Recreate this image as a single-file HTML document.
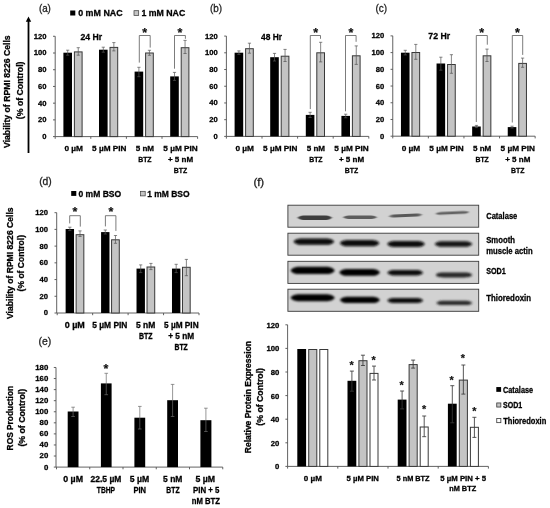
<!DOCTYPE html>
<html lang="en"><head><meta charset="utf-8"><title>Figure</title>
<style>html,body{margin:0;padding:0;background:#fff}svg{display:block}text{font-family:'Liberation Sans', Arial, sans-serif}</style></head><body>
<svg width="550" height="508" viewBox="0 0 550 508">
<defs><filter id="b1" x="-10%" y="-60%" width="120%" height="220%"><feGaussianBlur stdDeviation="0.9 0.7"/></filter><filter id="b2" x="-10%" y="-60%" width="120%" height="220%"><feGaussianBlur stdDeviation="1.1 0.8"/></filter></defs>
<rect width="550" height="508" fill="#fff"/>
<text x="38.90" y="12.44" font-size="11" font-weight="normal" fill="#222" stroke="#222" stroke-width="0.3" textLength="12.00" lengthAdjust="spacingAndGlyphs">(a)</text>
<text x="210.00" y="12.44" font-size="11" font-weight="normal" fill="#222" stroke="#222" stroke-width="0.3" textLength="12.10" lengthAdjust="spacingAndGlyphs">(b)</text>
<text x="375.40" y="12.44" font-size="11" font-weight="normal" fill="#222" stroke="#222" stroke-width="0.3" textLength="11.60" lengthAdjust="spacingAndGlyphs">(c)</text>
<text x="39.20" y="185.44" font-size="11" font-weight="normal" fill="#222" stroke="#222" stroke-width="0.3" textLength="12.60" lengthAdjust="spacingAndGlyphs">(d)</text>
<text x="38.50" y="345.14" font-size="11" font-weight="normal" fill="#222" stroke="#222" stroke-width="0.3" textLength="12.80" lengthAdjust="spacingAndGlyphs">(e)</text>
<text x="253.40" y="185.64" font-size="11" font-weight="normal" fill="#222" stroke="#222" stroke-width="0.3" textLength="10.80" lengthAdjust="spacingAndGlyphs">(f)</text>
<rect x="70.2" y="10.5" width="5.1" height="5.0" fill="#000"/>
<text x="78.20" y="16.22" font-size="9.0" font-weight="bold" fill="#000" stroke="#000" stroke-width="0.28" textLength="44.50" lengthAdjust="spacingAndGlyphs">0 mM NAC</text>
<rect x="134.0" y="10.7" width="4.7" height="4.7" fill="#c4c4c4" stroke="#383838" stroke-width="0.7"/>
<text x="141.40" y="16.22" font-size="9.0" font-weight="bold" fill="#000" stroke="#000" stroke-width="0.28" textLength="43.90" lengthAdjust="spacingAndGlyphs">1 mM NAC</text>
<rect x="71.2" y="191.0" width="5.1" height="4.9" fill="#000"/>
<text x="78.50" y="196.82" font-size="9.0" font-weight="bold" fill="#000" stroke="#000" stroke-width="0.28" textLength="42.70" lengthAdjust="spacingAndGlyphs">0 mM BSO</text>
<rect x="140.6" y="191.3" width="4.6" height="4.6" fill="#c4c4c4" stroke="#383838" stroke-width="0.7"/>
<text x="147.20" y="196.82" font-size="9.0" font-weight="bold" fill="#000" stroke="#000" stroke-width="0.28" textLength="42.40" lengthAdjust="spacingAndGlyphs">1 mM BSO</text>
<path d="M28.5 153V21" stroke="#000" stroke-width="1.8" fill="none"/>
<path d="M28.5 16.6L31.2 21.8H25.8Z" fill="#000"/>
<text transform="translate(10.38,148.00) rotate(-90)" x="0" y="0" font-size="8.6" font-weight="bold" fill="#000" stroke="#000" stroke-width="0.28" textLength="112.70" lengthAdjust="spacingAndGlyphs">Viability of RPMI 8226 Cells</text>
<text transform="translate(22.88,119.20) rotate(-90)" x="0" y="0" font-size="8.6" font-weight="bold" fill="#000" stroke="#000" stroke-width="0.28" textLength="57.70" lengthAdjust="spacingAndGlyphs">(% of Control)</text>
<text transform="translate(12.78,319.00) rotate(-90)" x="0" y="0" font-size="8.6" font-weight="bold" fill="#000" stroke="#000" stroke-width="0.28" textLength="111.60" lengthAdjust="spacingAndGlyphs">Viability of RPMI 8226 Cells</text>
<text transform="translate(24.48,291.40) rotate(-90)" x="0" y="0" font-size="8.6" font-weight="bold" fill="#000" stroke="#000" stroke-width="0.28" textLength="56.40" lengthAdjust="spacingAndGlyphs">(% of Control)</text>
<text transform="translate(13.48,450.40) rotate(-90)" x="0" y="0" font-size="8.6" font-weight="bold" fill="#000" stroke="#000" stroke-width="0.28" textLength="64.50" lengthAdjust="spacingAndGlyphs">ROS Production</text>
<text transform="translate(25.38,446.60) rotate(-90)" x="0" y="0" font-size="8.6" font-weight="bold" fill="#000" stroke="#000" stroke-width="0.28" textLength="57.70" lengthAdjust="spacingAndGlyphs">(% of Control)</text>
<text transform="translate(251.01,453.20) rotate(-90)" x="0" y="0" font-size="8.4" font-weight="bold" fill="#000" stroke="#000" stroke-width="0.28" textLength="112.20" lengthAdjust="spacingAndGlyphs">Relative Protein Expression</text>
<text transform="translate(263.31,425.70) rotate(-90)" x="0" y="0" font-size="8.4" font-weight="bold" fill="#000" stroke="#000" stroke-width="0.28" textLength="57.70" lengthAdjust="spacingAndGlyphs">(% of Control)</text>
<path d="M55.20 36.28V136.60H197.60M55.20 136.60v2.2M90.80 136.60v2.2M126.40 136.60v2.2M162.00 136.60v2.2M197.60 136.60v2.2M55.20 136.60h-2.2M55.20 119.88h-2.2M55.20 103.16h-2.2M55.20 86.44h-2.2M55.20 69.72h-2.2M55.20 53.00h-2.2M55.20 36.28h-2.2" stroke="#505050" stroke-width="0.9" fill="none"/>
<text x="42.35" y="139.06" font-size="8.0" font-weight="bold" fill="#000" stroke="#000" stroke-width="0.28" textLength="4.25" lengthAdjust="spacingAndGlyphs">0</text>
<text x="38.10" y="122.34" font-size="8.0" font-weight="bold" fill="#000" stroke="#000" stroke-width="0.28" textLength="8.50" lengthAdjust="spacingAndGlyphs">20</text>
<text x="38.10" y="105.62" font-size="8.0" font-weight="bold" fill="#000" stroke="#000" stroke-width="0.28" textLength="8.50" lengthAdjust="spacingAndGlyphs">40</text>
<text x="38.10" y="88.90" font-size="8.0" font-weight="bold" fill="#000" stroke="#000" stroke-width="0.28" textLength="8.50" lengthAdjust="spacingAndGlyphs">60</text>
<text x="38.10" y="72.18" font-size="8.0" font-weight="bold" fill="#000" stroke="#000" stroke-width="0.28" textLength="8.50" lengthAdjust="spacingAndGlyphs">80</text>
<text x="33.85" y="55.46" font-size="8.0" font-weight="bold" fill="#000" stroke="#000" stroke-width="0.28" textLength="12.75" lengthAdjust="spacingAndGlyphs">100</text>
<text x="33.85" y="38.74" font-size="8.0" font-weight="bold" fill="#000" stroke="#000" stroke-width="0.28" textLength="12.75" lengthAdjust="spacingAndGlyphs">120</text>
<text x="80.50" y="39.70" font-size="9.0" font-weight="bold" fill="#000" stroke="#000" stroke-width="0.28" textLength="21.70" lengthAdjust="spacingAndGlyphs">24 Hr</text>
<rect x="63.40" y="52.70" width="8.60" height="83.90" fill="#000"/>
<rect x="74.40" y="51.90" width="7.70" height="84.70" fill="#c4c4c4" stroke="#383838" stroke-width="1.0"/>
<path d="M67.70 50.20V55.20M66.10 50.20H69.30M66.10 55.20H69.30" stroke="#555" stroke-width="0.7" fill="none"/>
<path d="M78.25 47.70V55.20M76.65 47.70H79.85M76.65 55.20H79.85" stroke="#555" stroke-width="0.7" fill="none"/>
<rect x="99.00" y="49.70" width="8.60" height="86.90" fill="#000"/>
<rect x="110.00" y="47.40" width="7.70" height="89.20" fill="#c4c4c4" stroke="#383838" stroke-width="1.0"/>
<path d="M103.30 47.20V52.20M101.70 47.20H104.90M101.70 52.20H104.90" stroke="#555" stroke-width="0.7" fill="none"/>
<path d="M113.85 42.60V50.90M112.25 42.60H115.45M112.25 50.90H115.45" stroke="#555" stroke-width="0.7" fill="none"/>
<rect x="134.60" y="71.60" width="8.60" height="65.00" fill="#000"/>
<rect x="145.60" y="53.00" width="7.70" height="83.60" fill="#c4c4c4" stroke="#383838" stroke-width="1.0"/>
<path d="M138.90 67.30V76.70M137.30 67.30H140.50M137.30 76.70H140.50" stroke="#555" stroke-width="0.7" fill="none"/>
<path d="M149.45 50.30V55.30M147.85 50.30H151.05M147.85 55.30H151.05" stroke="#555" stroke-width="0.7" fill="none"/>
<rect x="170.20" y="76.40" width="8.60" height="60.20" fill="#000"/>
<rect x="181.20" y="47.70" width="7.70" height="88.90" fill="#c4c4c4" stroke="#383838" stroke-width="1.0"/>
<path d="M174.50 72.40V80.40M172.90 72.40H176.10M172.90 80.40H176.10" stroke="#555" stroke-width="0.7" fill="none"/>
<path d="M185.05 40.40V53.50M183.45 40.40H186.65M183.45 53.50H186.65" stroke="#555" stroke-width="0.7" fill="none"/>
<path d="M139.30 62.60V35.50H150.20V47.60" stroke="#5a5a5a" stroke-width="0.8" fill="none"/>
<text x="144.70" y="37.15" font-size="12.5" font-weight="bold" text-anchor="middle" fill="#111" stroke="#111" stroke-width="0.2">*</text>
<path d="M174.50 68.70V35.50H185.40V38.80" stroke="#5a5a5a" stroke-width="0.8" fill="none"/>
<text x="180.00" y="37.15" font-size="12.5" font-weight="bold" text-anchor="middle" fill="#111" stroke="#111" stroke-width="0.2">*</text>
<text x="64.40" y="151.16" font-size="8.0" font-weight="bold" fill="#000" stroke="#000" stroke-width="0.28" textLength="18.60" lengthAdjust="spacingAndGlyphs">0 µM</text>
<text x="92.10" y="151.16" font-size="8.0" font-weight="bold" fill="#000" stroke="#000" stroke-width="0.28" textLength="34.40" lengthAdjust="spacingAndGlyphs">5 µM PIN</text>
<text x="135.70" y="151.16" font-size="8.0" font-weight="bold" fill="#000" stroke="#000" stroke-width="0.28" textLength="18.40" lengthAdjust="spacingAndGlyphs">5 nM</text>
<text x="138.20" y="162.26" font-size="8.0" font-weight="bold" fill="#000" stroke="#000" stroke-width="0.28" textLength="13.40" lengthAdjust="spacingAndGlyphs">BTZ</text>
<text x="163.30" y="151.16" font-size="8.0" font-weight="bold" fill="#000" stroke="#000" stroke-width="0.28" textLength="34.40" lengthAdjust="spacingAndGlyphs">5 µM PIN</text>
<text x="167.90" y="162.26" font-size="8.0" font-weight="bold" fill="#000" stroke="#000" stroke-width="0.28" textLength="25.20" lengthAdjust="spacingAndGlyphs">+ 5 nM</text>
<text x="173.80" y="173.26" font-size="8.0" font-weight="bold" fill="#000" stroke="#000" stroke-width="0.28" textLength="13.40" lengthAdjust="spacingAndGlyphs">BTZ</text>
<path d="M226.40 36.08V136.40H368.80M226.40 136.40v2.2M262.00 136.40v2.2M297.60 136.40v2.2M333.20 136.40v2.2M368.80 136.40v2.2M226.40 136.40h-2.2M226.40 119.68h-2.2M226.40 102.96h-2.2M226.40 86.24h-2.2M226.40 69.52h-2.2M226.40 52.80h-2.2M226.40 36.08h-2.2" stroke="#505050" stroke-width="0.9" fill="none"/>
<text x="213.55" y="138.86" font-size="8.0" font-weight="bold" fill="#000" stroke="#000" stroke-width="0.28" textLength="4.25" lengthAdjust="spacingAndGlyphs">0</text>
<text x="209.30" y="122.14" font-size="8.0" font-weight="bold" fill="#000" stroke="#000" stroke-width="0.28" textLength="8.50" lengthAdjust="spacingAndGlyphs">20</text>
<text x="209.30" y="105.42" font-size="8.0" font-weight="bold" fill="#000" stroke="#000" stroke-width="0.28" textLength="8.50" lengthAdjust="spacingAndGlyphs">40</text>
<text x="209.30" y="88.70" font-size="8.0" font-weight="bold" fill="#000" stroke="#000" stroke-width="0.28" textLength="8.50" lengthAdjust="spacingAndGlyphs">60</text>
<text x="209.30" y="71.98" font-size="8.0" font-weight="bold" fill="#000" stroke="#000" stroke-width="0.28" textLength="8.50" lengthAdjust="spacingAndGlyphs">80</text>
<text x="205.05" y="55.26" font-size="8.0" font-weight="bold" fill="#000" stroke="#000" stroke-width="0.28" textLength="12.75" lengthAdjust="spacingAndGlyphs">100</text>
<text x="205.05" y="38.54" font-size="8.0" font-weight="bold" fill="#000" stroke="#000" stroke-width="0.28" textLength="12.75" lengthAdjust="spacingAndGlyphs">120</text>
<text x="261.00" y="39.50" font-size="9.0" font-weight="bold" fill="#000" stroke="#000" stroke-width="0.28" textLength="21.00" lengthAdjust="spacingAndGlyphs">48 Hr</text>
<rect x="234.60" y="52.70" width="8.60" height="83.70" fill="#000"/>
<rect x="245.60" y="48.70" width="7.70" height="87.70" fill="#c4c4c4" stroke="#383838" stroke-width="1.0"/>
<path d="M238.90 50.90V54.40M237.30 50.90H240.50M237.30 54.40H240.50" stroke="#555" stroke-width="0.7" fill="none"/>
<path d="M249.45 43.20V53.20M247.85 43.20H251.05M247.85 53.20H251.05" stroke="#555" stroke-width="0.7" fill="none"/>
<rect x="270.20" y="57.20" width="8.60" height="79.20" fill="#000"/>
<rect x="281.20" y="56.20" width="7.70" height="80.20" fill="#c4c4c4" stroke="#383838" stroke-width="1.0"/>
<path d="M274.50 53.40V61.00M272.90 53.40H276.10M272.90 61.00H276.10" stroke="#555" stroke-width="0.7" fill="none"/>
<path d="M285.05 49.40V61.50M283.45 49.40H286.65M283.45 61.50H286.65" stroke="#555" stroke-width="0.7" fill="none"/>
<rect x="305.80" y="114.90" width="8.60" height="21.50" fill="#000"/>
<rect x="316.80" y="52.80" width="7.70" height="83.60" fill="#c4c4c4" stroke="#383838" stroke-width="1.0"/>
<path d="M310.10 112.30V117.50M308.50 112.30H311.70M308.50 117.50H311.70" stroke="#555" stroke-width="0.7" fill="none"/>
<path d="M320.65 42.30V61.90M319.05 42.30H322.25M319.05 61.90H322.25" stroke="#555" stroke-width="0.7" fill="none"/>
<rect x="341.40" y="115.90" width="8.60" height="20.50" fill="#000"/>
<rect x="352.40" y="55.80" width="7.70" height="80.60" fill="#c4c4c4" stroke="#383838" stroke-width="1.0"/>
<path d="M345.70 114.20V117.80M344.10 114.20H347.30M344.10 117.80H347.30" stroke="#555" stroke-width="0.7" fill="none"/>
<path d="M356.25 45.90V64.40M354.65 45.90H357.85M354.65 64.40H357.85" stroke="#555" stroke-width="0.7" fill="none"/>
<path d="M310.30 109.10V35.50H320.50V38.80" stroke="#5a5a5a" stroke-width="0.8" fill="none"/>
<text x="315.70" y="37.15" font-size="12.5" font-weight="bold" text-anchor="middle" fill="#111" stroke="#111" stroke-width="0.2">*</text>
<path d="M345.50 111.30V35.50H356.10V41.80" stroke="#5a5a5a" stroke-width="0.8" fill="none"/>
<text x="351.00" y="37.15" font-size="12.5" font-weight="bold" text-anchor="middle" fill="#111" stroke="#111" stroke-width="0.2">*</text>
<text x="235.40" y="150.96" font-size="8.0" font-weight="bold" fill="#000" stroke="#000" stroke-width="0.28" textLength="18.60" lengthAdjust="spacingAndGlyphs">0 µM</text>
<text x="263.10" y="150.96" font-size="8.0" font-weight="bold" fill="#000" stroke="#000" stroke-width="0.28" textLength="34.40" lengthAdjust="spacingAndGlyphs">5 µM PIN</text>
<text x="306.70" y="150.96" font-size="8.0" font-weight="bold" fill="#000" stroke="#000" stroke-width="0.28" textLength="18.40" lengthAdjust="spacingAndGlyphs">5 nM</text>
<text x="309.20" y="162.06" font-size="8.0" font-weight="bold" fill="#000" stroke="#000" stroke-width="0.28" textLength="13.40" lengthAdjust="spacingAndGlyphs">BTZ</text>
<text x="334.30" y="150.96" font-size="8.0" font-weight="bold" fill="#000" stroke="#000" stroke-width="0.28" textLength="34.40" lengthAdjust="spacingAndGlyphs">5 µM PIN</text>
<text x="338.90" y="162.06" font-size="8.0" font-weight="bold" fill="#000" stroke="#000" stroke-width="0.28" textLength="25.20" lengthAdjust="spacingAndGlyphs">+ 5 nM</text>
<text x="344.80" y="173.06" font-size="8.0" font-weight="bold" fill="#000" stroke="#000" stroke-width="0.28" textLength="13.40" lengthAdjust="spacingAndGlyphs">BTZ</text>
<path d="M392.75 35.88V136.20H535.15M392.75 136.20v2.2M428.35 136.20v2.2M463.95 136.20v2.2M499.55 136.20v2.2M535.15 136.20v2.2M392.75 136.20h-2.2M392.75 119.48h-2.2M392.75 102.76h-2.2M392.75 86.04h-2.2M392.75 69.32h-2.2M392.75 52.60h-2.2M392.75 35.88h-2.2" stroke="#505050" stroke-width="0.9" fill="none"/>
<text x="379.90" y="138.66" font-size="8.0" font-weight="bold" fill="#000" stroke="#000" stroke-width="0.28" textLength="4.25" lengthAdjust="spacingAndGlyphs">0</text>
<text x="375.65" y="121.94" font-size="8.0" font-weight="bold" fill="#000" stroke="#000" stroke-width="0.28" textLength="8.50" lengthAdjust="spacingAndGlyphs">20</text>
<text x="375.65" y="105.22" font-size="8.0" font-weight="bold" fill="#000" stroke="#000" stroke-width="0.28" textLength="8.50" lengthAdjust="spacingAndGlyphs">40</text>
<text x="375.65" y="88.50" font-size="8.0" font-weight="bold" fill="#000" stroke="#000" stroke-width="0.28" textLength="8.50" lengthAdjust="spacingAndGlyphs">60</text>
<text x="375.65" y="71.78" font-size="8.0" font-weight="bold" fill="#000" stroke="#000" stroke-width="0.28" textLength="8.50" lengthAdjust="spacingAndGlyphs">80</text>
<text x="371.40" y="55.06" font-size="8.0" font-weight="bold" fill="#000" stroke="#000" stroke-width="0.28" textLength="12.75" lengthAdjust="spacingAndGlyphs">100</text>
<text x="371.40" y="38.34" font-size="8.0" font-weight="bold" fill="#000" stroke="#000" stroke-width="0.28" textLength="12.75" lengthAdjust="spacingAndGlyphs">120</text>
<text x="428.30" y="39.30" font-size="9.0" font-weight="bold" fill="#000" stroke="#000" stroke-width="0.28" textLength="21.80" lengthAdjust="spacingAndGlyphs">72 Hr</text>
<rect x="400.95" y="52.70" width="8.60" height="83.50" fill="#000"/>
<rect x="411.95" y="52.50" width="7.70" height="83.70" fill="#c4c4c4" stroke="#383838" stroke-width="1.0"/>
<path d="M405.25 50.30V54.90M403.65 50.30H406.85M403.65 54.90H406.85" stroke="#555" stroke-width="0.7" fill="none"/>
<path d="M415.80 44.40V59.30M414.20 44.40H417.40M414.20 59.30H417.40" stroke="#555" stroke-width="0.7" fill="none"/>
<rect x="436.55" y="63.50" width="8.60" height="72.70" fill="#000"/>
<rect x="447.55" y="64.50" width="7.70" height="71.70" fill="#c4c4c4" stroke="#383838" stroke-width="1.0"/>
<path d="M440.85 57.20V70.20M439.25 57.20H442.45M439.25 70.20H442.45" stroke="#555" stroke-width="0.7" fill="none"/>
<path d="M451.40 54.70V73.30M449.80 54.70H453.00M449.80 73.30H453.00" stroke="#555" stroke-width="0.7" fill="none"/>
<rect x="472.15" y="126.50" width="8.60" height="9.70" fill="#000"/>
<rect x="483.15" y="55.80" width="7.70" height="80.40" fill="#c4c4c4" stroke="#383838" stroke-width="1.0"/>
<path d="M476.45 125.40V127.60M474.85 125.40H478.05M474.85 127.60H478.05" stroke="#555" stroke-width="0.7" fill="none"/>
<path d="M487.00 49.10V61.50M485.40 49.10H488.60M485.40 61.50H488.60" stroke="#555" stroke-width="0.7" fill="none"/>
<rect x="507.75" y="127.10" width="8.60" height="9.10" fill="#000"/>
<rect x="518.75" y="63.40" width="7.70" height="72.80" fill="#c4c4c4" stroke="#383838" stroke-width="1.0"/>
<path d="M512.05 126.20V128.00M510.45 126.20H513.65M510.45 128.00H513.65" stroke="#555" stroke-width="0.7" fill="none"/>
<path d="M522.60 58.10V67.30M521.00 58.10H524.20M521.00 67.30H524.20" stroke="#555" stroke-width="0.7" fill="none"/>
<path d="M476.30 122.00V35.50H487.30V44.70" stroke="#5a5a5a" stroke-width="0.8" fill="none"/>
<text x="481.70" y="37.15" font-size="12.5" font-weight="bold" text-anchor="middle" fill="#111" stroke="#111" stroke-width="0.2">*</text>
<path d="M512.30 122.50V35.50H522.70V54.90" stroke="#5a5a5a" stroke-width="0.8" fill="none"/>
<text x="517.40" y="37.15" font-size="12.5" font-weight="bold" text-anchor="middle" fill="#111" stroke="#111" stroke-width="0.2">*</text>
<text x="401.65" y="150.76" font-size="8.0" font-weight="bold" fill="#000" stroke="#000" stroke-width="0.28" textLength="18.60" lengthAdjust="spacingAndGlyphs">0 µM</text>
<text x="429.35" y="150.76" font-size="8.0" font-weight="bold" fill="#000" stroke="#000" stroke-width="0.28" textLength="34.40" lengthAdjust="spacingAndGlyphs">5 µM PIN</text>
<text x="472.95" y="150.76" font-size="8.0" font-weight="bold" fill="#000" stroke="#000" stroke-width="0.28" textLength="18.40" lengthAdjust="spacingAndGlyphs">5 nM</text>
<text x="475.45" y="161.86" font-size="8.0" font-weight="bold" fill="#000" stroke="#000" stroke-width="0.28" textLength="13.40" lengthAdjust="spacingAndGlyphs">BTZ</text>
<text x="500.55" y="150.76" font-size="8.0" font-weight="bold" fill="#000" stroke="#000" stroke-width="0.28" textLength="34.40" lengthAdjust="spacingAndGlyphs">5 µM PIN</text>
<text x="505.15" y="161.86" font-size="8.0" font-weight="bold" fill="#000" stroke="#000" stroke-width="0.28" textLength="25.20" lengthAdjust="spacingAndGlyphs">+ 5 nM</text>
<text x="511.05" y="172.86" font-size="8.0" font-weight="bold" fill="#000" stroke="#000" stroke-width="0.28" textLength="13.40" lengthAdjust="spacingAndGlyphs">BTZ</text>
<path d="M56.70 212.68V313.00H199.00M57.20 313.00v2.2M92.65 313.00v2.2M128.10 313.00v2.2M163.55 313.00v2.2M199.00 313.00v2.2M56.70 313.00h-2.2M56.70 296.28h-2.2M56.70 279.56h-2.2M56.70 262.84h-2.2M56.70 246.12h-2.2M56.70 229.40h-2.2M56.70 212.68h-2.2" stroke="#505050" stroke-width="0.9" fill="none"/>
<text x="43.75" y="315.46" font-size="8.0" font-weight="bold" fill="#000" stroke="#000" stroke-width="0.28" textLength="4.25" lengthAdjust="spacingAndGlyphs">0</text>
<text x="39.50" y="298.74" font-size="8.0" font-weight="bold" fill="#000" stroke="#000" stroke-width="0.28" textLength="8.50" lengthAdjust="spacingAndGlyphs">20</text>
<text x="39.50" y="282.02" font-size="8.0" font-weight="bold" fill="#000" stroke="#000" stroke-width="0.28" textLength="8.50" lengthAdjust="spacingAndGlyphs">40</text>
<text x="39.50" y="265.30" font-size="8.0" font-weight="bold" fill="#000" stroke="#000" stroke-width="0.28" textLength="8.50" lengthAdjust="spacingAndGlyphs">60</text>
<text x="39.50" y="248.58" font-size="8.0" font-weight="bold" fill="#000" stroke="#000" stroke-width="0.28" textLength="8.50" lengthAdjust="spacingAndGlyphs">80</text>
<text x="35.25" y="231.86" font-size="8.0" font-weight="bold" fill="#000" stroke="#000" stroke-width="0.28" textLength="12.75" lengthAdjust="spacingAndGlyphs">100</text>
<text x="35.25" y="215.14" font-size="8.0" font-weight="bold" fill="#000" stroke="#000" stroke-width="0.28" textLength="12.75" lengthAdjust="spacingAndGlyphs">120</text>
<rect x="65.63" y="229.00" width="8.40" height="84.00" fill="#000"/>
<rect x="76.13" y="234.70" width="7.70" height="78.30" fill="#c4c4c4" stroke="#383838" stroke-width="1.0"/>
<path d="M69.83 227.20V230.60M68.23 227.20H71.43M68.23 230.60H71.43" stroke="#555" stroke-width="0.7" fill="none"/>
<path d="M80.03 230.90V236.50M78.43 230.90H81.62M78.43 236.50H81.62" stroke="#555" stroke-width="0.7" fill="none"/>
<rect x="101.08" y="232.10" width="8.40" height="80.90" fill="#000"/>
<rect x="111.58" y="239.80" width="7.70" height="73.20" fill="#c4c4c4" stroke="#383838" stroke-width="1.0"/>
<path d="M105.28 230.00V234.00M103.68 230.00H106.88M103.68 234.00H106.88" stroke="#555" stroke-width="0.7" fill="none"/>
<path d="M115.47 235.50V243.30M113.88 235.50H117.07M113.88 243.30H117.07" stroke="#555" stroke-width="0.7" fill="none"/>
<rect x="136.52" y="268.60" width="8.40" height="44.40" fill="#000"/>
<rect x="147.02" y="267.00" width="7.70" height="46.00" fill="#c4c4c4" stroke="#383838" stroke-width="1.0"/>
<path d="M140.72 264.90V272.60M139.12 264.90H142.32M139.12 272.60H142.32" stroke="#555" stroke-width="0.7" fill="none"/>
<path d="M150.92 263.40V269.60M149.32 263.40H152.52M149.32 269.60H152.52" stroke="#555" stroke-width="0.7" fill="none"/>
<rect x="171.98" y="268.60" width="8.40" height="44.40" fill="#000"/>
<rect x="182.48" y="267.30" width="7.70" height="45.70" fill="#c4c4c4" stroke="#383838" stroke-width="1.0"/>
<path d="M176.18 264.30V272.60M174.58 264.30H177.78M174.58 272.60H177.78" stroke="#555" stroke-width="0.7" fill="none"/>
<path d="M186.38 259.40V275.70M184.78 259.40H187.98M184.78 275.70H187.98" stroke="#555" stroke-width="0.7" fill="none"/>
<path d="M69.70 223.40V215.70H80.30V226.60" stroke="#5a5a5a" stroke-width="0.8" fill="none"/>
<text x="74.90" y="215.65" font-size="12.5" font-weight="bold" text-anchor="middle" fill="#111" stroke="#111" stroke-width="0.2">*</text>
<path d="M105.40 226.40V215.70H115.90V230.90" stroke="#5a5a5a" stroke-width="0.8" fill="none"/>
<text x="111.00" y="215.65" font-size="12.5" font-weight="bold" text-anchor="middle" fill="#111" stroke="#111" stroke-width="0.2">*</text>
<text x="64.70" y="327.61" font-size="8.4" font-weight="bold" fill="#000" stroke="#000" stroke-width="0.28" textLength="20.10" lengthAdjust="spacingAndGlyphs">0 µM</text>
<text x="92.30" y="327.61" font-size="8.4" font-weight="bold" fill="#000" stroke="#000" stroke-width="0.28" textLength="35.10" lengthAdjust="spacingAndGlyphs">5 µM PIN</text>
<text x="135.90" y="327.61" font-size="8.4" font-weight="bold" fill="#000" stroke="#000" stroke-width="0.28" textLength="19.30" lengthAdjust="spacingAndGlyphs">5 nM</text>
<text x="139.00" y="338.81" font-size="8.4" font-weight="bold" fill="#000" stroke="#000" stroke-width="0.28" textLength="13.60" lengthAdjust="spacingAndGlyphs">BTZ</text>
<text x="164.00" y="327.61" font-size="8.4" font-weight="bold" fill="#000" stroke="#000" stroke-width="0.28" textLength="34.60" lengthAdjust="spacingAndGlyphs">5 µM PIN</text>
<text x="168.20" y="338.81" font-size="8.4" font-weight="bold" fill="#000" stroke="#000" stroke-width="0.28" textLength="25.90" lengthAdjust="spacingAndGlyphs">+ 5 nM</text>
<text x="174.50" y="349.91" font-size="8.4" font-weight="bold" fill="#000" stroke="#000" stroke-width="0.28" textLength="13.30" lengthAdjust="spacingAndGlyphs">BTZ</text>
<path d="M56.00 367.47V467.10H222.75M56.50 467.10v2.2M89.75 467.10v2.2M123.00 467.10v2.2M156.25 467.10v2.2M189.50 467.10v2.2M222.75 467.10v2.2M56.00 467.10h-2.2M56.00 456.03h-2.2M56.00 444.96h-2.2M56.00 433.89h-2.2M56.00 422.82h-2.2M56.00 411.75h-2.2M56.00 400.68h-2.2M56.00 389.61h-2.2M56.00 378.54h-2.2M56.00 367.47h-2.2" stroke="#505050" stroke-width="0.9" fill="none"/>
<text x="43.95" y="469.56" font-size="8.0" font-weight="bold" fill="#000" stroke="#000" stroke-width="0.28" textLength="4.35" lengthAdjust="spacingAndGlyphs">0</text>
<text x="39.60" y="458.49" font-size="8.0" font-weight="bold" fill="#000" stroke="#000" stroke-width="0.28" textLength="8.70" lengthAdjust="spacingAndGlyphs">20</text>
<text x="39.60" y="447.42" font-size="8.0" font-weight="bold" fill="#000" stroke="#000" stroke-width="0.28" textLength="8.70" lengthAdjust="spacingAndGlyphs">40</text>
<text x="39.60" y="436.35" font-size="8.0" font-weight="bold" fill="#000" stroke="#000" stroke-width="0.28" textLength="8.70" lengthAdjust="spacingAndGlyphs">60</text>
<text x="39.60" y="425.28" font-size="8.0" font-weight="bold" fill="#000" stroke="#000" stroke-width="0.28" textLength="8.70" lengthAdjust="spacingAndGlyphs">80</text>
<text x="35.25" y="414.21" font-size="8.0" font-weight="bold" fill="#000" stroke="#000" stroke-width="0.28" textLength="13.05" lengthAdjust="spacingAndGlyphs">100</text>
<text x="35.25" y="403.14" font-size="8.0" font-weight="bold" fill="#000" stroke="#000" stroke-width="0.28" textLength="13.05" lengthAdjust="spacingAndGlyphs">120</text>
<text x="35.25" y="392.07" font-size="8.0" font-weight="bold" fill="#000" stroke="#000" stroke-width="0.28" textLength="13.05" lengthAdjust="spacingAndGlyphs">140</text>
<text x="35.25" y="381.00" font-size="8.0" font-weight="bold" fill="#000" stroke="#000" stroke-width="0.28" textLength="13.05" lengthAdjust="spacingAndGlyphs">160</text>
<text x="35.25" y="369.93" font-size="8.0" font-weight="bold" fill="#000" stroke="#000" stroke-width="0.28" textLength="13.05" lengthAdjust="spacingAndGlyphs">180</text>
<rect x="67.70" y="411.50" width="10.80" height="55.60" fill="#000"/>
<path d="M73.10 407.20V416.50M71.30 407.20H74.90M71.30 416.50H74.90" stroke="#6a6a6a" stroke-width="0.7" fill="none"/>
<rect x="100.90" y="383.40" width="10.70" height="83.70" fill="#000"/>
<path d="M106.25 373.30V394.70M104.45 373.30H108.05M104.45 394.70H108.05" stroke="#6a6a6a" stroke-width="0.7" fill="none"/>
<rect x="134.40" y="417.70" width="10.80" height="49.40" fill="#000"/>
<path d="M139.80 406.40V429.00M138.00 406.40H141.60M138.00 429.00H141.60" stroke="#6a6a6a" stroke-width="0.7" fill="none"/>
<rect x="167.20" y="400.20" width="10.80" height="66.90" fill="#000"/>
<path d="M172.60 384.40V416.50M170.80 384.40H174.40M170.80 416.50H174.40" stroke="#6a6a6a" stroke-width="0.7" fill="none"/>
<rect x="200.40" y="420.20" width="11.00" height="46.90" fill="#000"/>
<path d="M205.90 408.20V431.50M204.10 408.20H207.70M204.10 431.50H207.70" stroke="#6a6a6a" stroke-width="0.7" fill="none"/>
<text x="106.00" y="372.65" font-size="12.5" font-weight="bold" text-anchor="middle" fill="#111" stroke="#111" stroke-width="0.2">*</text>
<text x="63.20" y="482.14" font-size="8.2" font-weight="bold" fill="#000" stroke="#000" stroke-width="0.28" textLength="19.80" lengthAdjust="spacingAndGlyphs">0 µM</text>
<text x="90.60" y="482.14" font-size="8.2" font-weight="bold" fill="#000" stroke="#000" stroke-width="0.28" textLength="30.70" lengthAdjust="spacingAndGlyphs">22.5 µM</text>
<text x="96.80" y="493.04" font-size="8.2" font-weight="bold" fill="#000" stroke="#000" stroke-width="0.28" textLength="18.20" lengthAdjust="spacingAndGlyphs">TBHP</text>
<text x="129.80" y="482.14" font-size="8.2" font-weight="bold" fill="#000" stroke="#000" stroke-width="0.28" textLength="19.40" lengthAdjust="spacingAndGlyphs">5 µM</text>
<text x="133.40" y="493.04" font-size="8.2" font-weight="bold" fill="#000" stroke="#000" stroke-width="0.28" textLength="12.60" lengthAdjust="spacingAndGlyphs">PIN</text>
<text x="163.10" y="482.14" font-size="8.2" font-weight="bold" fill="#000" stroke="#000" stroke-width="0.28" textLength="19.30" lengthAdjust="spacingAndGlyphs">5 nM</text>
<text x="166.30" y="493.04" font-size="8.2" font-weight="bold" fill="#000" stroke="#000" stroke-width="0.28" textLength="13.30" lengthAdjust="spacingAndGlyphs">BTZ</text>
<text x="195.50" y="482.14" font-size="8.2" font-weight="bold" fill="#000" stroke="#000" stroke-width="0.28" textLength="19.60" lengthAdjust="spacingAndGlyphs">5 µM</text>
<text x="193.10" y="493.04" font-size="8.2" font-weight="bold" fill="#000" stroke="#000" stroke-width="0.28" textLength="26.40" lengthAdjust="spacingAndGlyphs">PIN + 5</text>
<text x="191.80" y="503.94" font-size="8.2" font-weight="bold" fill="#000" stroke="#000" stroke-width="0.28" textLength="28.20" lengthAdjust="spacingAndGlyphs">nM BTZ</text>
<rect x="287.9" y="205.20" width="190.8" height="22.00" fill="#d2d2d2" stroke="#3a3a3a" stroke-width="0.9"/>
<rect x="287.9" y="233.20" width="190.8" height="22.00" fill="#d2d2d2" stroke="#3a3a3a" stroke-width="0.9"/>
<rect x="287.9" y="261.30" width="190.8" height="22.10" fill="#d2d2d2" stroke="#3a3a3a" stroke-width="0.9"/>
<rect x="287.9" y="289.20" width="190.8" height="22.10" fill="#d2d2d2" stroke="#3a3a3a" stroke-width="0.9"/>
<path d="M297.5 217.80C299.8 215.60 302.8 215.60 305.1 215.60H324.4C326.7 215.60 329.7 215.60 332.0 217.80C329.7 220.00 326.7 220.00 324.4 220.00H305.1C302.8 220.00 299.8 220.00 297.5 217.80Z" fill="#3c3c3c" filter="url(#b1)"/>
<path d="M343.0 217.20C345.2 215.40 348.2 215.40 350.5 215.40H369.5C371.8 215.40 374.8 215.40 377.0 217.20C374.8 219.00 371.8 219.00 369.5 219.00H350.5C348.2 219.00 345.2 219.00 343.0 217.20Z" fill="#5c5c5c" filter="url(#b1)"/>
<path d="M388.6 215.50C390.8 214.00 393.8 214.00 396.0 214.00H415.0C417.2 214.00 420.2 214.00 422.4 215.50C420.2 217.00 417.2 217.00 415.0 217.00H396.0C393.8 217.00 390.8 217.00 388.6 215.50Z" fill="#585858" filter="url(#b1)" transform="rotate(-2.5 405.5 215.5)"/>
<path d="M435.4 212.90C437.6 211.60 440.6 211.60 442.8 211.60H461.8C464.0 211.60 467.0 211.60 469.2 212.90C467.0 214.20 464.0 214.20 461.8 214.20H442.8C440.6 214.20 437.6 214.20 435.4 212.90Z" fill="#646464" filter="url(#b1)" transform="rotate(-2.5 452.3 212.9)"/>
<path d="M293.4 241.70C296.1 238.60 299.7 238.60 302.4 238.60H325.3C328.0 238.60 331.6 238.60 334.3 241.70C331.6 244.80 328.0 244.80 325.3 244.80H302.4C299.7 244.80 296.1 244.80 293.4 241.70Z" fill="#080808" filter="url(#b2)"/>
<path d="M339.7 243.20C342.3 240.10 345.8 240.10 348.5 240.10H370.7C373.4 240.10 376.9 240.10 379.5 243.20C376.9 246.30 373.4 246.30 370.7 246.30H348.5C345.8 246.30 342.3 246.30 339.7 243.20Z" fill="#0c0c0c" filter="url(#b2)"/>
<path d="M387.0 244.00C389.5 241.00 392.9 241.00 395.4 241.00H416.6C419.1 241.00 422.5 241.00 425.0 244.00C422.5 247.00 419.1 247.00 416.6 247.00H395.4C392.9 247.00 389.5 247.00 387.0 244.00Z" fill="#0c0c0c" filter="url(#b2)"/>
<path d="M434.5 244.00C437.0 241.20 440.4 241.20 442.9 241.20H464.1C466.6 241.20 470.0 241.20 472.5 244.00C470.0 246.80 466.6 246.80 464.1 246.80H442.9C440.4 246.80 437.0 246.80 434.5 244.00Z" fill="#141414" filter="url(#b2)"/>
<path d="M290.4 270.40C293.3 266.70 297.3 266.70 300.2 266.70H325.1C328.0 266.70 332.0 266.70 334.9 270.40C332.0 274.10 328.0 274.10 325.1 274.10H300.2C297.3 274.10 293.3 274.10 290.4 270.40Z" fill="#000" filter="url(#b2)"/>
<path d="M339.1 272.40C341.8 269.00 345.4 269.00 348.1 269.00H371.1C373.8 269.00 377.4 269.00 380.1 272.40C377.4 275.80 373.8 275.80 371.1 275.80H348.1C345.4 275.80 341.8 275.80 339.1 272.40Z" fill="#030303" filter="url(#b2)"/>
<path d="M387.0 272.80C389.4 270.10 392.6 270.10 395.0 270.10H415.4C417.8 270.10 421.0 270.10 423.4 272.80C421.0 275.50 417.8 275.50 415.4 275.50H395.0C392.6 275.50 389.4 275.50 387.0 272.80Z" fill="#101010" filter="url(#b2)"/>
<path d="M435.4 275.00C437.8 272.60 441.1 272.60 443.6 272.60H464.3C466.8 272.60 470.1 272.60 472.5 275.00C470.1 277.40 466.8 277.40 464.3 277.40H443.6C441.1 277.40 437.8 277.40 435.4 275.00Z" fill="#262626" filter="url(#b2)"/>
<path d="M290.4 297.80C293.3 294.30 297.3 294.30 300.2 294.30H325.1C328.0 294.30 332.0 294.30 334.9 297.80C332.0 301.30 328.0 301.30 325.1 301.30H300.2C297.3 301.30 293.3 301.30 290.4 297.80Z" fill="#000" filter="url(#b2)"/>
<path d="M339.7 299.90C342.4 296.70 345.9 296.70 348.6 296.70H371.2C373.9 296.70 377.4 296.70 380.1 299.90C377.4 303.10 373.9 303.10 371.2 303.10H348.6C345.9 303.10 342.4 303.10 339.7 299.90Z" fill="#030303" filter="url(#b2)"/>
<path d="M387.0 300.60C389.4 298.10 392.6 298.10 395.0 298.10H415.4C417.8 298.10 421.0 298.10 423.4 300.60C421.0 303.10 417.8 303.10 415.4 303.10H395.0C392.6 303.10 389.4 303.10 387.0 300.60Z" fill="#101010" filter="url(#b2)"/>
<path d="M436.0 302.90C438.4 300.70 441.6 300.70 444.0 300.70H464.5C466.9 300.70 470.1 300.70 472.5 302.90C470.1 305.10 466.9 305.10 464.5 305.10H444.0C441.6 305.10 438.4 305.10 436.0 302.90Z" fill="#2a2a2a" filter="url(#b2)"/>
<text x="486.20" y="218.72" font-size="9.0" font-weight="bold" fill="#000" stroke="#000" stroke-width="0.28" textLength="31.10" lengthAdjust="spacingAndGlyphs">Catalase</text>
<text x="486.20" y="242.92" font-size="9.0" font-weight="bold" fill="#000" stroke="#000" stroke-width="0.28" textLength="28.80" lengthAdjust="spacingAndGlyphs">Smooth</text>
<text x="486.20" y="253.82" font-size="9.0" font-weight="bold" fill="#000" stroke="#000" stroke-width="0.28" textLength="46.50" lengthAdjust="spacingAndGlyphs">muscle actin</text>
<text x="486.20" y="274.02" font-size="9.0" font-weight="bold" fill="#000" stroke="#000" stroke-width="0.28" textLength="19.60" lengthAdjust="spacingAndGlyphs">SOD1</text>
<text x="486.20" y="301.22" font-size="9.0" font-weight="bold" fill="#000" stroke="#000" stroke-width="0.28" textLength="44.80" lengthAdjust="spacingAndGlyphs">Thioredoxin</text>
<path d="M287.60 324.80V466.40H488.40M287.60 466.40v2.2M337.80 466.40v2.2M388.00 466.40v2.2M438.20 466.40v2.2M488.40 466.40v2.2M287.60 466.40h-2.2M287.60 442.80h-2.2M287.60 419.20h-2.2M287.60 395.60h-2.2M287.60 372.00h-2.2M287.60 348.40h-2.2M287.60 324.80h-2.2" stroke="#505050" stroke-width="0.9" fill="none"/>
<text x="275.00" y="469.46" font-size="8.0" font-weight="bold" fill="#000" stroke="#000" stroke-width="0.28" textLength="4.30" lengthAdjust="spacingAndGlyphs">0</text>
<text x="270.70" y="445.86" font-size="8.0" font-weight="bold" fill="#000" stroke="#000" stroke-width="0.28" textLength="8.60" lengthAdjust="spacingAndGlyphs">20</text>
<text x="270.70" y="422.26" font-size="8.0" font-weight="bold" fill="#000" stroke="#000" stroke-width="0.28" textLength="8.60" lengthAdjust="spacingAndGlyphs">40</text>
<text x="270.70" y="398.66" font-size="8.0" font-weight="bold" fill="#000" stroke="#000" stroke-width="0.28" textLength="8.60" lengthAdjust="spacingAndGlyphs">60</text>
<text x="270.70" y="375.06" font-size="8.0" font-weight="bold" fill="#000" stroke="#000" stroke-width="0.28" textLength="8.60" lengthAdjust="spacingAndGlyphs">80</text>
<text x="266.40" y="351.46" font-size="8.0" font-weight="bold" fill="#000" stroke="#000" stroke-width="0.28" textLength="12.90" lengthAdjust="spacingAndGlyphs">100</text>
<text x="266.40" y="327.86" font-size="8.0" font-weight="bold" fill="#000" stroke="#000" stroke-width="0.28" textLength="12.90" lengthAdjust="spacingAndGlyphs">120</text>
<rect x="297.30" y="349.00" width="8.80" height="117.40" fill="#000"/>
<rect x="308.70" y="349.50" width="8.10" height="116.90" fill="#c4c4c4" stroke="#383838" stroke-width="1.0"/>
<rect x="319.80" y="349.50" width="8.00" height="116.90" fill="#fff" stroke="#383838" stroke-width="1.0"/>
<rect x="347.50" y="380.80" width="8.80" height="85.60" fill="#000"/>
<rect x="358.90" y="360.70" width="8.10" height="105.70" fill="#c4c4c4" stroke="#383838" stroke-width="1.0"/>
<rect x="370.00" y="373.40" width="8.00" height="93.00" fill="#fff" stroke="#383838" stroke-width="1.0"/>
<path d="M351.90 371.10V391.20M349.90 371.10H353.90M349.90 391.20H353.90" stroke="#3a3a3a" stroke-width="0.85" fill="none"/>
<path d="M362.95 355.20V365.50M360.95 355.20H364.95M360.95 365.50H364.95" stroke="#3a3a3a" stroke-width="0.85" fill="none"/>
<path d="M374.00 366.10V380.00M372.00 366.10H376.00M372.00 380.00H376.00" stroke="#3a3a3a" stroke-width="0.85" fill="none"/>
<rect x="397.70" y="399.60" width="8.80" height="66.80" fill="#000"/>
<rect x="409.10" y="364.60" width="8.10" height="101.80" fill="#c4c4c4" stroke="#383838" stroke-width="1.0"/>
<rect x="420.20" y="427.00" width="8.00" height="39.40" fill="#fff" stroke="#383838" stroke-width="1.0"/>
<path d="M402.10 391.00V408.90M400.10 391.00H404.10M400.10 408.90H404.10" stroke="#3a3a3a" stroke-width="0.85" fill="none"/>
<path d="M413.15 360.10V368.10M411.15 360.10H415.15M411.15 368.10H415.15" stroke="#3a3a3a" stroke-width="0.85" fill="none"/>
<path d="M424.20 416.00V436.70M422.20 416.00H426.20M422.20 436.70H426.20" stroke="#3a3a3a" stroke-width="0.85" fill="none"/>
<rect x="447.90" y="403.70" width="8.80" height="62.70" fill="#000"/>
<rect x="459.30" y="380.10" width="8.10" height="86.30" fill="#c4c4c4" stroke="#383838" stroke-width="1.0"/>
<rect x="470.40" y="427.30" width="8.00" height="39.10" fill="#fff" stroke="#383838" stroke-width="1.0"/>
<path d="M452.30 385.70V422.80M450.30 385.70H454.30M450.30 422.80H454.30" stroke="#3a3a3a" stroke-width="0.85" fill="none"/>
<path d="M463.35 365.00V394.10M461.35 365.00H465.35M461.35 394.10H465.35" stroke="#3a3a3a" stroke-width="0.85" fill="none"/>
<path d="M474.40 417.30V437.40M472.40 417.30H476.40M472.40 437.40H476.40" stroke="#3a3a3a" stroke-width="0.85" fill="none"/>
<text x="351.50" y="369.25" font-size="10.8" font-weight="bold" text-anchor="middle" fill="#111" stroke="#111" stroke-width="0.2">*</text>
<text x="373.60" y="364.35" font-size="10.8" font-weight="bold" text-anchor="middle" fill="#111" stroke="#111" stroke-width="0.2">*</text>
<text x="401.60" y="389.25" font-size="10.8" font-weight="bold" text-anchor="middle" fill="#111" stroke="#111" stroke-width="0.2">*</text>
<text x="424.20" y="413.35" font-size="10.8" font-weight="bold" text-anchor="middle" fill="#111" stroke="#111" stroke-width="0.2">*</text>
<text x="451.70" y="383.65" font-size="10.8" font-weight="bold" text-anchor="middle" fill="#111" stroke="#111" stroke-width="0.2">*</text>
<text x="462.80" y="362.35" font-size="10.8" font-weight="bold" text-anchor="middle" fill="#111" stroke="#111" stroke-width="0.2">*</text>
<text x="474.30" y="414.55" font-size="10.8" font-weight="bold" text-anchor="middle" fill="#111" stroke="#111" stroke-width="0.2">*</text>
<text x="303.80" y="481.42" font-size="7.6" font-weight="bold" fill="#000" stroke="#000" stroke-width="0.28" textLength="18.10" lengthAdjust="spacingAndGlyphs">0 µM</text>
<text x="346.50" y="481.42" font-size="7.6" font-weight="bold" fill="#000" stroke="#000" stroke-width="0.28" textLength="32.40" lengthAdjust="spacingAndGlyphs">5 µM PIN</text>
<text x="396.50" y="481.42" font-size="7.6" font-weight="bold" fill="#000" stroke="#000" stroke-width="0.28" textLength="33.10" lengthAdjust="spacingAndGlyphs">5 nM BTZ</text>
<text x="440.30" y="481.42" font-size="7.6" font-weight="bold" fill="#000" stroke="#000" stroke-width="0.28" textLength="45.80" lengthAdjust="spacingAndGlyphs">5 µM PIN + 5</text>
<text x="449.20" y="491.32" font-size="7.6" font-weight="bold" fill="#000" stroke="#000" stroke-width="0.28" textLength="27.00" lengthAdjust="spacingAndGlyphs">nM BTZ</text>
<rect x="496.3" y="387.05" width="4.8" height="4.8" fill="#000"/>
<rect x="496.75" y="402.95" width="4.1" height="4.1" fill="#c4c4c4" stroke="#383838" stroke-width="0.8"/>
<rect x="496.75" y="418.55" width="4.1" height="4.1" fill="#fff" stroke="#383838" stroke-width="0.8"/>
<text x="503.00" y="392.74" font-size="8.2" font-weight="bold" fill="#000" stroke="#000" stroke-width="0.28" textLength="30.10" lengthAdjust="spacingAndGlyphs">Catalase</text>
<text x="503.00" y="408.24" font-size="8.2" font-weight="bold" fill="#000" stroke="#000" stroke-width="0.28" textLength="19.20" lengthAdjust="spacingAndGlyphs">SOD1</text>
<text x="503.20" y="423.94" font-size="8.2" font-weight="bold" fill="#000" stroke="#000" stroke-width="0.28" textLength="43.10" lengthAdjust="spacingAndGlyphs">Thioredoxin</text>
</svg></body></html>
